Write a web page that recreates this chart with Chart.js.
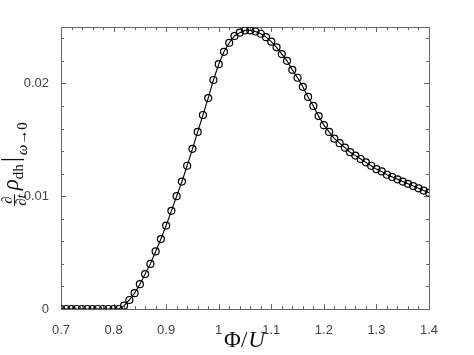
<!DOCTYPE html>
<html>
<head>
<meta charset="utf-8">
<script src="https://cdn.jsdelivr.net/npm/chart.js@4"></script>
<style>
  body{margin:0;background:#fff;}
  #wrap{width:474px;height:355px;}
</style>
</head>
<body>
<div id="wrap"><canvas id="chart" width="474" height="355"></canvas></div>
<script>
// Data
const phi=[0.70,0.71,0.72,0.73,0.74,0.75,0.76,0.77,0.78,0.79,
  0.80,0.81,0.82,0.83,0.84,0.85,0.86,0.87,0.88,0.89,
  0.90,0.91,0.92,0.93,0.94,0.95,0.96,0.97,0.98,0.99,
  1.00,1.01,1.02,1.03,1.04,1.05,1.06,1.07,1.08,1.09,
  1.10,1.11,1.12,1.13,1.14,1.15,1.16,1.17,1.18,1.19,
  1.20,1.21,1.22,1.23,1.24,1.25,1.26,1.27,1.28,1.29,
  1.30,1.31,1.32,1.33,1.34,1.35,1.36,1.37,1.38,1.39,1.40];
const rate=[0,0,0,0,0,0,0,0,0,0,
  0,0,0.0003,0.0008,0.0014,0.0022,0.0031,0.0040,0.0051,0.0062,
  0.0074,0.0087,0.0100,0.0113,0.0127,0.0142,0.0157,0.0172,0.0187,0.0203,
  0.0217,0.0228,0.0236,0.0242,0.0245,0.0247,0.0247,0.0246,0.0244,0.0241,
  0.0237,0.0232,0.0226,0.0220,0.0212,0.0205,0.0197,0.0188,0.0180,0.0171,
  0.0163,0.0157,0.0151,0.0147,0.0143,0.0139,0.0136,0.0133,0.0130,0.0127,
  0.0124,0.0122,0.0119,0.0117,0.0115,0.0113,0.0111,0.0109,0.0107,0.0105,0.0103];
const xMajor=[0.7,0.8,0.9,1,1.1,1.2,1.3,1.4];
const yMajor=[0,0.01,0.02];

const pts=phi.map((p,i)=>({x:p,y:rate[i]}));
const isMajor=(v,list)=>list.some(m=>Math.abs(m-v)<1e-7);

// frame + inward ticks + axis titles
const frame={
  id:'frame',
  beforeDatasetsDraw(chart){
    const ctx=chart.ctx, a=chart.chartArea, xs=chart.scales.x, ys=chart.scales.y;
    ctx.save();
    ctx.strokeStyle='#666'; ctx.lineWidth=1;
    ctx.strokeRect(Math.round(a.left)+0.5,Math.round(a.top)+0.5,Math.round(a.right-a.left),Math.round(a.bottom-a.top));
    ctx.beginPath();
    xs.ticks.forEach(t=>{
      const px=Math.round(xs.getPixelForValue(t.value))+0.5;
      const len=isMajor(t.value,xMajor)?5:3;
      ctx.moveTo(px,a.bottom); ctx.lineTo(px,a.bottom-len);
      ctx.moveTo(px,a.top); ctx.lineTo(px,a.top+len);
    });
    ys.ticks.forEach(t=>{
      const py=Math.round(ys.getPixelForValue(t.value))+0.5;
      const len=isMajor(t.value,yMajor)?5:3;
      ctx.moveTo(a.left,py); ctx.lineTo(a.left+len,py);
      ctx.moveTo(a.right,py); ctx.lineTo(a.right-len,py);
    });
    ctx.stroke();
    ctx.restore();
  },
  afterDraw(chart){
    const ctx=chart.ctx;
    ctx.save();
    ctx.fillStyle='#111';
    ctx.textBaseline='alphabetic';
    // x title: Φ/U
    const up='23px "Liberation Serif"', it='italic 23px "Liberation Serif"';
    ctx.font=up; const w1=ctx.measureText('Φ/').width;
    ctx.font=it; const w2=ctx.measureText('U').width;
    let x0=244-(w1+w2)/2;
    ctx.font=up; ctx.fillText('Φ/',x0,347);
    ctx.font=it; ctx.fillText('U',x0+w1+1,347);

    // y title, rotated
    ctx.translate(15,164);
    ctx.rotate(-Math.PI/2);
    const fFrac='italic 15px "Liberation Serif"';
    const fRho='italic 23px "Liberation Serif"';
    const fSub='15px "Liberation Serif"';
    const fSub2='italic 15px "Liberation Serif"';
    ctx.font=fFrac; const wn=ctx.measureText('∂').width, wd=ctx.measureText('∂t').width;
    ctx.font=fRho; const wr=ctx.measureText('ρ').width;
    ctx.font=fSub; const wdh=ctx.measureText('dh').width;
    ctx.font=fSub2; const ww=ctx.measureText('ω').width;
    ctx.font=fSub; const wa=ctx.measureText('→0').width;
    const total=wd+4+wr+wdh+4+2+3+ww+wa;
    let cx=-total/2;
    // fraction
    ctx.font=fFrac;
    ctx.fillText('∂',cx+(wd-wn)/2,-3);
    ctx.fillText('∂t',cx,11);
    ctx.fillRect(cx,-1,wd,1);
    cx+=wd+4;
    ctx.font=fRho; ctx.fillText('ρ',cx,3); cx+=wr;
    ctx.font=fSub; ctx.fillText('dh',cx,8); cx+=wdh+4;
    ctx.fillRect(cx,-14,1.3,23); cx+=2+3;
    ctx.font=fSub2; ctx.fillText('ω',cx,12); cx+=ww;
    ctx.font=fSub; ctx.fillText('→0',cx,12);
    ctx.restore();
  }
};

new Chart(document.getElementById('chart'),{
  type:'line',
  data:{datasets:[{
    data:pts,
    borderColor:'#000',borderWidth:1.1,
    pointRadius:3.5,pointBorderWidth:1.2,pointBorderColor:'#000',
    pointBackgroundColor:'rgba(0,0,0,0)',
    tension:0,fill:false
  }]},
  options:{
    responsive:false,animation:false,
    layout:{padding:{left:0,right:45,top:27,bottom:0}},
    plugins:{legend:{display:false},tooltip:{enabled:false}},
    scales:{
      x:{type:'linear',min:0.7,max:1.4,
        grid:{display:false},border:{display:false},
        afterFit(s){s.height=46;},
        afterBuildTicks(s){const t=[];for(let i=0;i<=35;i++)t.push({value:0.7+i*0.02});s.ticks=t;},
        ticks:{autoSkip:false,maxRotation:0,padding:6,color:'#444',
          font:{family:'"Liberation Sans"',size:13},
          callback:v=>isMajor(v,xMajor)?String(+v.toFixed(1)):''}},
      y:{type:'linear',min:0,max:0.025,
        grid:{display:false},border:{display:false},
        afterFit(s){s.width=61;},
        afterBuildTicks(s){const t=[];for(let i=0;i<=12;i++)t.push({value:i*0.002});s.ticks=t;},
        ticks:{autoSkip:false,padding:4,color:'#444',
          font:{family:'"Liberation Sans"',size:13},
          callback:v=>isMajor(v,yMajor)?String(+v.toFixed(2)):''}}
    }
  },
  plugins:[frame]
});
</script>
</body>
</html>
